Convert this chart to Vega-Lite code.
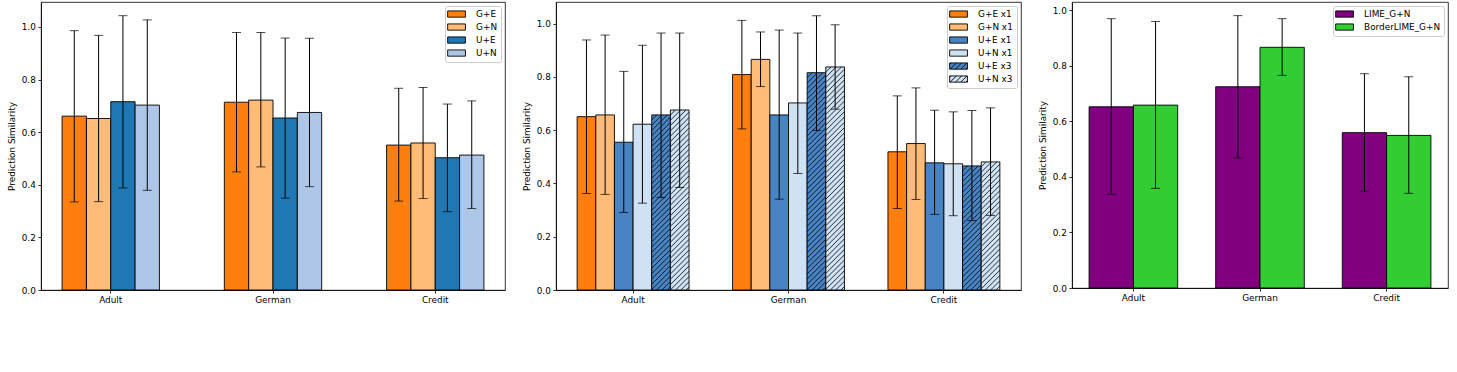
{
  "$schema": "https://vega.github.io/schema/vega-lite/v6.json",
  "background": "white",
  "padding": {"left": 7, "top": 1, "right": 5, "bottom": 5},
  "bounds": "flush",
  "spacing": 51,
  "resolve": {"scale": {"x": "independent", "xOffset": "independent", "y": "independent", "color": "independent"}, "legend": {"color": "independent"}, "axis": {"x": "independent", "y": "independent"}},
  "config": {
    "font": "DejaVu Sans",
    "view": {"stroke": "black", "strokeWidth": 0.8},
    "axis": {"labelFont": "DejaVu Sans", "labelFontSize": 8.9, "labelColor": "black", "titleFont": "DejaVu Sans", "titleFontSize": 8.9, "titleFontWeight": "normal", "titleColor": "black", "domainColor": "black", "domainWidth": 0.8, "tickColor": "black", "tickWidth": 0.8, "tickSize": 3.1, "labelPadding": 2.6, "grid": false},
    "axisX": {"labelAngle": 0},
    "axisY": {"titlePadding": 4.5},
    "legend": {"symbolType": "M-2.857,-1H2.857V1H-2.857Z", "symbolSize": 38.8, "symbolOffset": 3.5, "symbolStrokeColor": "black", "symbolStrokeWidth": 0.9, "labelFont": "DejaVu Sans", "labelFontSize": 8.9, "labelColor": "black", "labelOffset": 15.1, "rowPadding": 2, "padding": 3.6, "strokeColor": "#cccccc", "fillColor": "rgba(255,255,255,0.8)", "cornerRadius": 2, "orient": "top-right", "offset": 4.4}
  },
  "datasets": {
    "p1": [
      {"dataset": "Adult", "method": "G+E", "mean": 0.661, "lo": 0.335, "hi": 0.986},
      {"dataset": "Adult", "method": "G+N", "mean": 0.652, "lo": 0.336, "hi": 0.968},
      {"dataset": "Adult", "method": "U+E", "mean": 0.716, "lo": 0.388, "hi": 1.043},
      {"dataset": "Adult", "method": "U+N", "mean": 0.703, "lo": 0.379, "hi": 1.027},
      {"dataset": "German", "method": "G+E", "mean": 0.714, "lo": 0.449, "hi": 0.979},
      {"dataset": "German", "method": "G+N", "mean": 0.722, "lo": 0.468, "hi": 0.979},
      {"dataset": "German", "method": "U+E", "mean": 0.654, "lo": 0.349, "hi": 0.958},
      {"dataset": "German", "method": "U+N", "mean": 0.675, "lo": 0.393, "hi": 0.957},
      {"dataset": "Credit", "method": "G+E", "mean": 0.551, "lo": 0.338, "hi": 0.767},
      {"dataset": "Credit", "method": "G+N", "mean": 0.559, "lo": 0.348, "hi": 0.770},
      {"dataset": "Credit", "method": "U+E", "mean": 0.503, "lo": 0.298, "hi": 0.707},
      {"dataset": "Credit", "method": "U+N", "mean": 0.513, "lo": 0.310, "hi": 0.719}
    ],
    "p2": [
      {"dataset": "Adult", "method": "G+E x1", "mean": 0.651, "lo": 0.3625, "hi": 0.939},
      {"dataset": "Adult", "method": "G+N x1", "mean": 0.6575, "lo": 0.359, "hi": 0.9575},
      {"dataset": "Adult", "method": "U+E x1", "mean": 0.555, "lo": 0.291, "hi": 0.821},
      {"dataset": "Adult", "method": "U+N x1", "mean": 0.6225, "lo": 0.326, "hi": 0.919},
      {"dataset": "Adult", "method": "U+E x3", "mean": 0.6575, "lo": 0.3475, "hi": 0.965},
      {"dataset": "Adult", "method": "U+N x3", "mean": 0.676, "lo": 0.385, "hi": 0.965},
      {"dataset": "German", "method": "G+E x1", "mean": 0.809, "lo": 0.605, "hi": 1.0125},
      {"dataset": "German", "method": "G+N x1", "mean": 0.866, "lo": 0.764, "hi": 0.969},
      {"dataset": "German", "method": "U+E x1", "mean": 0.6575, "lo": 0.341, "hi": 0.976},
      {"dataset": "German", "method": "U+N x1", "mean": 0.7025, "lo": 0.4375, "hi": 0.965},
      {"dataset": "German", "method": "U+E x3", "mean": 0.816, "lo": 0.599, "hi": 1.03},
      {"dataset": "German", "method": "U+N x3", "mean": 0.8375, "lo": 0.679, "hi": 0.996},
      {"dataset": "Credit", "method": "G+E x1", "mean": 0.519, "lo": 0.306, "hi": 0.729},
      {"dataset": "Credit", "method": "G+N x1", "mean": 0.55, "lo": 0.34, "hi": 0.759},
      {"dataset": "Credit", "method": "U+E x1", "mean": 0.4775, "lo": 0.284, "hi": 0.675},
      {"dataset": "Credit", "method": "U+N x1", "mean": 0.474, "lo": 0.279, "hi": 0.669},
      {"dataset": "Credit", "method": "U+E x3", "mean": 0.466, "lo": 0.261, "hi": 0.674},
      {"dataset": "Credit", "method": "U+N x3", "mean": 0.481, "lo": 0.28, "hi": 0.684}
    ],
    "p3": [
      {"dataset": "Adult", "method": "LIME_G+N", "mean": 0.652, "lo": 0.337, "hi": 0.969},
      {"dataset": "Adult", "method": "BorderLIME_G+N", "mean": 0.658, "lo": 0.3585, "hi": 0.959},
      {"dataset": "German", "method": "LIME_G+N", "mean": 0.724, "lo": 0.468, "hi": 0.980},
      {"dataset": "German", "method": "BorderLIME_G+N", "mean": 0.866, "lo": 0.765, "hi": 0.969},
      {"dataset": "Credit", "method": "LIME_G+N", "mean": 0.559, "lo": 0.348, "hi": 0.771},
      {"dataset": "Credit", "method": "BorderLIME_G+N", "mean": 0.549, "lo": 0.3405, "hi": 0.760}
    ]
  },
  "hconcat": [
    {
      "width": 464, "height": 288,
      "data": {"name": "p1"},
      "encoding": {
        "x": {"field": "dataset", "type": "nominal", "sort": ["Adult", "German", "Credit"], "scale": {"paddingInner": 0.4, "paddingOuter": 0.13}, "axis": {"title": null}},
        "xOffset": {"field": "method", "type": "nominal", "sort": ["G+E", "G+N", "U+E", "U+N"], "scale": {"domain": ["G+E", "G+N", "U+E", "U+N"], "paddingInner": 0, "paddingOuter": 0}}
      },
      "layer": [
        {"mark": {"type": "bar", "stroke": "black", "strokeWidth": 0.9},
         "encoding": {
           "y": {"field": "mean", "type": "quantitative", "title": "Prediction Similarity", "scale": {"domain": [0, 1.095], "nice": false}, "axis": {"values": [0, 0.2, 0.4, 0.6, 0.8, 1.0], "format": ".1f"}},
           "color": {"field": "method", "type": "nominal", "scale": {"domain": ["G+E", "G+N", "U+E", "U+N"], "range": ["#ff7f0e", "#ffbb78", "#1f77b4", "#aec7e8"]}, "legend": {"title": null}}
         }},
        {"mark": {"type": "rule", "color": "black", "strokeWidth": 1},
         "encoding": {"y": {"field": "lo", "type": "quantitative", "title": "Prediction Similarity", "scale": {"domain": [0, 1.095], "nice": false}}, "y2": {"field": "hi"}}},
        {"mark": {"type": "tick", "color": "black", "size": 9, "thickness": 1},
         "encoding": {"y": {"field": "lo", "type": "quantitative", "title": "Prediction Similarity", "scale": {"domain": [0, 1.095], "nice": false}}}},
        {"mark": {"type": "tick", "color": "black", "size": 9, "thickness": 1},
         "encoding": {"y": {"field": "hi", "type": "quantitative", "title": "Prediction Similarity", "scale": {"domain": [0, 1.095], "nice": false}}}}
      ]
    },
    {
      "width": 465, "height": 288,
      "data": {"name": "p2"},
      "encoding": {
        "x": {"field": "dataset", "type": "nominal", "sort": ["Adult", "German", "Credit"], "scale": {"paddingInner": 0.28, "paddingOuter": 0.136}, "axis": {"title": null}},
        "xOffset": {"field": "method", "type": "nominal", "sort": ["G+E x1", "G+N x1", "U+E x1", "U+N x1", "U+E x3", "U+N x3"], "scale": {"domain": ["G+E x1", "G+N x1", "U+E x1", "U+N x1", "U+E x3", "U+N x3"], "paddingInner": 0, "paddingOuter": 0}}
      },
      "layer": [
        {"mark": {"type": "bar", "stroke": "black", "strokeWidth": 0.9},
         "encoding": {
           "y": {"field": "mean", "type": "quantitative", "title": "Prediction Similarity", "scale": {"domain": [0, 1.0815], "nice": false}, "axis": {"values": [0, 0.2, 0.4, 0.6, 0.8, 1.0], "format": ".1f"}},
           "color": {"field": "method", "type": "nominal", "scale": {"domain": ["G+E x1", "G+N x1", "U+E x1", "U+N x1", "U+E x3", "U+N x3"], "range": ["#ff7f0e", "#ffbb78", "#4883c3", "#cfe2f3", "#4883c3", "#cfe2f3"]},
             "legend": {"title": null, "encode": {"symbols": {"update": {"shape": {"signal": "indexof(datum.value, 'x3') >= 0 ? 'M-2.857,-1H2.857V1H-2.857ZM-2.857,-0.543L-2.4,-1M-2.7,1L-0.7,-1M-1,1L1,-1M0.7,1L2.7,-1M2.4,1L2.857,0.543' : 'M-2.857,-1H2.857V1H-2.857Z'"}}}}}}
         }},
        {"transform": [{"filter": "indexof(datum.method, 'x3') >= 0"}],
         "mark": {"type": "point", "filled": false, "opacity": 1, "stroke": "black", "strokeWidth": 0.8, "size": 4, "clip": true,
           "shape": "M-9.3,5l5,-5M-9.3,10.3l10.3,-10.3M-9.3,15.6l15.6,-15.6M-9.3,20.9l18.6,-18.6M-9.3,26.2l18.6,-18.6M-9.3,31.5l18.6,-18.6M-9.3,36.8l18.6,-18.6M-9.3,42.1l18.6,-18.6M-9.3,47.4l18.6,-18.6M-9.3,52.7l18.6,-18.6M-9.3,58l18.6,-18.6M-9.3,63.3l18.6,-18.6M-9.3,68.6l18.6,-18.6M-9.3,73.9l18.6,-18.6M-9.3,79.2l18.6,-18.6M-9.3,84.5l18.6,-18.6M-9.3,89.8l18.6,-18.6M-9.3,95.1l18.6,-18.6M-9.3,100.4l18.6,-18.6M-9.3,105.7l18.6,-18.6M-9.3,111l18.6,-18.6M-9.3,116.3l18.6,-18.6M-9.3,121.6l18.6,-18.6M-9.3,126.9l18.6,-18.6M-9.3,132.2l18.6,-18.6M-9.3,137.5l18.6,-18.6M-9.3,142.8l18.6,-18.6M-9.3,148.1l18.6,-18.6M-9.3,153.4l18.6,-18.6M-9.3,158.7l18.6,-18.6M-9.3,164l18.6,-18.6M-9.3,169.3l18.6,-18.6M-9.3,174.6l18.6,-18.6M-9.3,179.9l18.6,-18.6M-9.3,185.2l18.6,-18.6M-9.3,190.5l18.6,-18.6M-9.3,195.8l18.6,-18.6M-9.3,201.1l18.6,-18.6M-9.3,206.4l18.6,-18.6M-9.3,211.7l18.6,-18.6M-9.3,217l18.6,-18.6M-9.3,222.3l18.6,-18.6M-9.3,227.6l18.6,-18.6M-9.3,232.9l18.6,-18.6M-9.3,238.2l18.6,-18.6M-9.3,243.5l18.6,-18.6"},
         "encoding": {"y": {"field": "mean", "type": "quantitative", "title": "Prediction Similarity", "scale": {"domain": [0, 1.0815], "nice": false}}}},
        {"mark": {"type": "rule", "color": "black", "strokeWidth": 1},
         "encoding": {"y": {"field": "lo", "type": "quantitative", "title": "Prediction Similarity", "scale": {"domain": [0, 1.0815], "nice": false}}, "y2": {"field": "hi"}}},
        {"mark": {"type": "tick", "color": "black", "size": 9, "thickness": 1},
         "encoding": {"y": {"field": "lo", "type": "quantitative", "title": "Prediction Similarity", "scale": {"domain": [0, 1.0815], "nice": false}}}},
        {"mark": {"type": "tick", "color": "black", "size": 9, "thickness": 1},
         "encoding": {"y": {"field": "hi", "type": "quantitative", "title": "Prediction Similarity", "scale": {"domain": [0, 1.0815], "nice": false}}}}
      ]
    },
    {
      "width": 376, "height": 286,
      "data": {"name": "p3"},
      "encoding": {
        "x": {"field": "dataset", "type": "nominal", "sort": ["Adult", "German", "Credit"], "scale": {"paddingInner": 0.3, "paddingOuter": 0.135}, "axis": {"title": null}},
        "xOffset": {"field": "method", "type": "nominal", "sort": ["LIME_G+N", "BorderLIME_G+N"], "scale": {"domain": ["LIME_G+N", "BorderLIME_G+N"], "paddingInner": 0, "paddingOuter": 0}}
      },
      "layer": [
        {"mark": {"type": "bar", "stroke": "black", "strokeWidth": 0.9},
         "encoding": {
           "y": {"field": "mean", "type": "quantitative", "title": "Prediction Similarity", "scale": {"domain": [0, 1.029], "nice": false}, "axis": {"values": [0, 0.2, 0.4, 0.6, 0.8, 1.0], "format": ".1f"}},
           "color": {"field": "method", "type": "nominal", "scale": {"domain": ["LIME_G+N", "BorderLIME_G+N"], "range": ["#800080", "#32cd32"]}, "legend": {"title": null}}
         }},
        {"mark": {"type": "rule", "color": "black", "strokeWidth": 1},
         "encoding": {"y": {"field": "lo", "type": "quantitative", "title": "Prediction Similarity", "scale": {"domain": [0, 1.029], "nice": false}}, "y2": {"field": "hi"}}},
        {"mark": {"type": "tick", "color": "black", "size": 9, "thickness": 1},
         "encoding": {"y": {"field": "lo", "type": "quantitative", "title": "Prediction Similarity", "scale": {"domain": [0, 1.029], "nice": false}}}},
        {"mark": {"type": "tick", "color": "black", "size": 9, "thickness": 1},
         "encoding": {"y": {"field": "hi", "type": "quantitative", "title": "Prediction Similarity", "scale": {"domain": [0, 1.029], "nice": false}}}}
      ]
    }
  ]
}
